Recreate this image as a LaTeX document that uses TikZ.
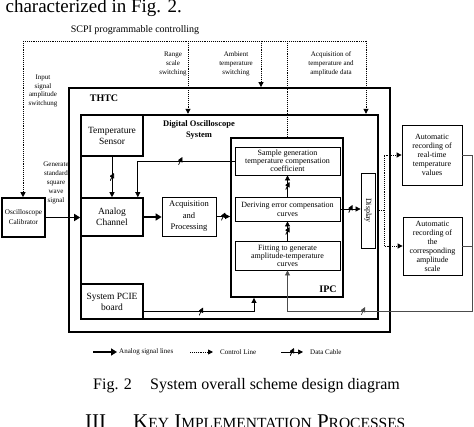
\documentclass[tikz,border=0pt]{standalone}
\usepackage{fontspec}
\setmainfont{Liberation Serif}
\usetikzlibrary{arrows.meta}

\newcommand\fakesc[1]{{\fontsize{15.5}{15.5}\selectfont #1}}

\tikzset{
  blk/.style={draw, line width=1.6pt, inner sep=1pt, align=center},
  thinblk/.style={draw, line width=0.8pt, inner sep=1pt, align=center},
  frame/.style={draw, inner sep=0pt},
  small/.style={font=\fontsize{7}{8.8}\selectfont, align=center},
  legend/.style={font=\fontsize{7}{8}\selectfont, anchor=west, inner sep=0pt},
  analog/.style={line width=1.6pt, -{Triangle[length=6pt,width=7pt]}},
  ctrl/.style={densely dotted, line width=0.9pt, -{Triangle[length=5pt,width=5pt]}},
  ctrlline/.style={densely dotted, line width=0.9pt},
  data/.style={line width=0.7pt, -{Triangle[length=5pt,width=5pt]}},
  slash/.style={minimum width=4pt, minimum height=8pt, inner sep=0pt,
    path picture={\draw[line width=0.7pt] (path picture bounding box.south west) -- (path picture bounding box.north east);}},
}

\begin{document}
\begin{tikzpicture}[x=1pt, y=-1pt, font=\fontsize{8.5}{9.5}\selectfont]
  \useasboundingbox (0,0) rectangle (474,427);
  % text round the figure
  \node[anchor=base east, inner sep=0pt, font=\fontsize{19}{19}\selectfont] (prev) at (182,13) {characterized in Fig. 2.};
  \node[font=\fontsize{10}{10}\selectfont] (scpi) at (135,30) {SCPI programmable controlling};
  \node[small] (inlbl) at (43,91) {Input\\signal\\amplitude\\switchung};
  \node[small] (genlbl) at (56,183) {Generate\\standard\\square\\wave\\signal};
  \node[small] (rnglbl) at (173,64) {Range\\scale\\switching};
  \node[small] (amblbl) at (236,64) {Ambient\\temperature\\switching};
  \node[small] (acqlbl) at (331,64) {Acquisition of\\temperature and\\amplitude data};

  % frames
  \node[frame, line width=1.8pt, minimum width=321pt, minimum height=244pt] (thtc) at (229.5,210) {};
  \node[frame, line width=2.4pt, minimum width=297pt, minimum height=204pt] (dos) at (229.5,217) {};
  \node[frame, line width=1.8pt, minimum width=112pt, minimum height=159pt] (ipc) at (287,217.5) {};
  \node[font=\fontsize{10}{10}\selectfont\bfseries] (thtcl) at (104,98) {THTC};
  \node[font=\fontsize{8.5}{10.5}\selectfont\bfseries, align=center] (dosl) at (199,130) {Digital Oscilloscope\\System};
  \node[font=\fontsize{10}{10}\selectfont\bfseries] (ipcl) at (328,289) {IPC};

  % blocks
  \node[blk, minimum width=43pt, minimum height=39pt, font=\fontsize{7.2}{10}\selectfont] (calib) at (23.5,217.5) {Oscilloscope\\Calibrator};
  \node[blk, minimum width=62pt, minimum height=41pt, font=\fontsize{9.5}{11}\selectfont] (tsens) at (112,135.5) {Temperature\\Sensor};
  \node[blk, minimum width=62pt, minimum height=38pt, font=\fontsize{9.5}{11}\selectfont] (achan) at (112,217) {Analog\\Channel};
  \node[blk, minimum width=62pt, minimum height=35pt, font=\fontsize{9.5}{11}\selectfont] (pcie) at (112,301.5) {System PCIE\\board};
  \node[thinblk, minimum width=54pt, minimum height=39pt, font=\fontsize{8.5}{11.5}\selectfont] (acq) at (189,216.5) {Acquisition\\and\\Processing};
  \node[thinblk, minimum width=105pt, minimum height=28pt, font=\fontsize{8}{8}\selectfont] (sample) at (287.5,161) {Sample generation\\temperature compensation\\coefficient};
  \node[thinblk, minimum width=105pt, minimum height=24pt, font=\fontsize{8}{9}\selectfont] (deriv) at (287.5,209) {Deriving error compensation\\curves};
  \node[thinblk, minimum width=105pt, minimum height=29pt, font=\fontsize{8}{8}\selectfont] (fit) at (287.5,255.5) {Fitting to generate\\amplitude-temperature\\curves};
  \node[thinblk, minimum width=14pt, minimum height=75pt, font=\fontsize{8}{8}\selectfont] (disp) at (368,210.5) {\rotatebox{-90}{Display}};
  \node[thinblk, minimum width=60pt, minimum height=60pt, font=\fontsize{8}{9}\selectfont] (rec1) at (432,155) {Automatic\\recording of\\real-time\\temperature\\values};
  \node[thinblk, minimum width=59pt, minimum height=58pt, font=\fontsize{8}{9}\selectfont] (rec2) at (432.5,246) {Automatic\\recording of\\the\\corresponding\\amplitude\\scale};

  % analog signal lines
  \draw[analog] (calib.east) -- (calib.east -| achan.west);
  \draw[analog] (achan.east) -- (achan.east -| acq.west);

  % data cables
  \draw[data] (tsens) -- node[slash]{} (achan);
  \draw[data] (acq.east) -- node[slash]{} (acq.east -| ipc.west);
  \draw[data] (sample.west) -| node[pos=0.28, slash]{} ([xshift=-6pt]achan.north east);
  \draw[data] (deriv) -- node[slash]{} (sample);
  \draw[data] (fit) -- node[slash]{} (deriv);
  \draw[data] (deriv.east) -- node[slash]{} (deriv.east -| disp.west);
  \draw[data] ([yshift=-10pt]pcie.east) -| node[pos=0.26, slash]{} ([xshift=-33pt]ipc.south);
  \coordinate (rbus) at (472,311);
  \draw[line width=0.7pt, black!70] (rec2.east) -- (rec2.east -| rbus);
  \draw[data, black!70] (rec1.east) -| (rbus) -- node[pos=0.59, slash]{} (rbus -| fit.south) -- (fit.south);

  % control lines
  \coordinate (bl) at (23,41);
  \coordinate (rng) at (188,41);
  \coordinate (amb) at (261,41);
  \coordinate (br) at (366,41);
  \draw[ctrlline] (bl) -- (br);
  \draw[ctrlline] (ipc.north) -- (ipc.north |- br);
  \draw[ctrl] (bl) -- (bl |- calib.north);
  \draw[ctrl] (rng) -- (rng |- dos.north);
  \draw[ctrl] (amb) -- (amb |- thtc.north);
  \draw[ctrl] (br) -- (br |- dos.north);
  \coordinate (split) at (384,210.5);
  \draw[ctrlline] (disp.east) -- (split);
  \draw[ctrl] (split) |- (rec1.west);
  \draw[ctrl] (split) |- (rec2.west);

  % legend
  \coordinate (lg1) at (93,352);
  \coordinate (lg2) at (117,352);
  \coordinate (lg3) at (190,352);
  \coordinate (lg4) at (213,352);
  \coordinate (lg5) at (281,352);
  \coordinate (lg6) at (303,352);
  \draw[analog] (lg1) -- (lg2);
  \node[legend] (lgt1) at ([xshift=2pt]lg2) {Analog signal lines};
  \draw[ctrl] (lg3) -- (lg4);
  \node[legend] (lgt2) at ([xshift=7pt]lg4) {Control Line};
  \draw[data] (lg5) -- node[slash]{} (lg6);
  \node[legend] (lgt3) at ([xshift=7pt]lg6) {Data Cable};

  % caption and heading
  \node[anchor=base west, inner sep=0pt, font=\fontsize{16}{16}\selectfont] (figno) at (93,390) {Fig. 2};
  \node[anchor=base west, inner sep=0pt, font=\fontsize{16}{16}\selectfont] (figcap) at (150,390) {System overall scheme design diagram};
  \node[anchor=base west, inner sep=0pt, font=\fontsize{21}{21}\selectfont] (secno) at (85,429) {III};
  \node[anchor=base west, inner sep=0pt, font=\fontsize{21}{21}\selectfont] (sectitle) at (133,429) {K\fakesc{EY} I\fakesc{MPLEMENTATION} P\fakesc{ROCESSES}};
\end{tikzpicture}
\end{document}
